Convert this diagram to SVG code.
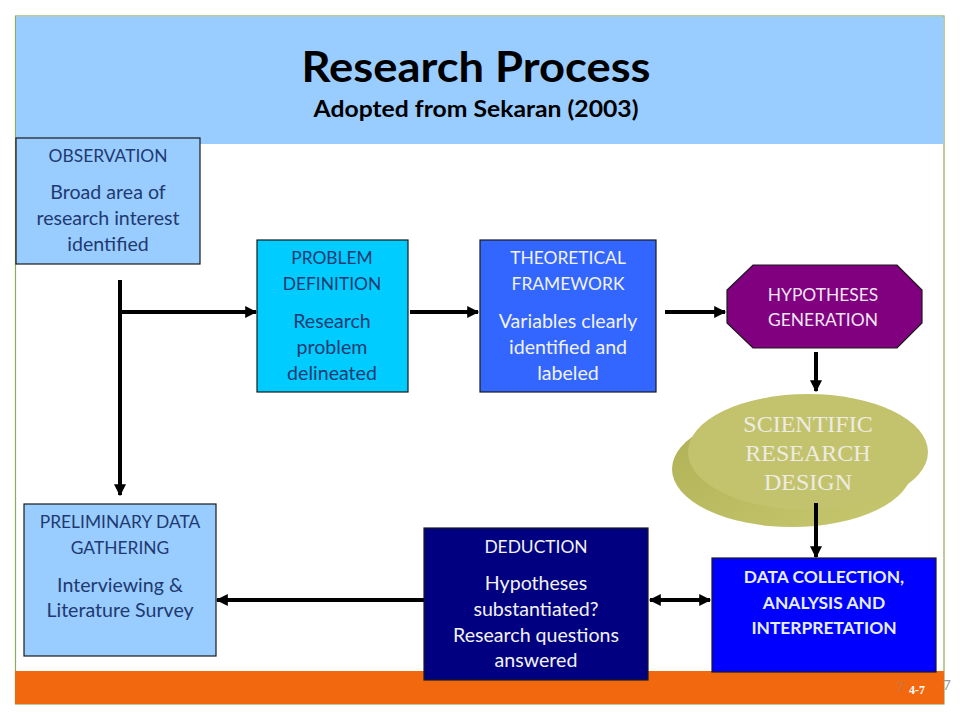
<svg xmlns="http://www.w3.org/2000/svg" width="960" height="720" viewBox="0 0 960 720">
<defs>
<style>
text{font-family:Lato,"Open Sans","Liberation Sans",sans-serif;text-anchor:middle}
.box{stroke:#1a1a1a;stroke-width:1.2}
.h{font-size:17.4px}
.b{font-size:19.6px}
.navy{fill:#1F3A70}
.wh{fill:#F2F2F2}
.conn line,.conn path{stroke:#000;stroke-width:4;fill:none}
.serif{font-family:"Liberation Serif","DejaVu Serif",serif;font-size:24px;fill:#EEECE1}
</style>
<marker id="ah" viewBox="0 0 10 10" refX="9" refY="5" markerWidth="3.2" markerHeight="3" orient="auto-start-reverse" markerUnits="strokeWidth">
<path d="M0,0 L10,5 L0,10 z" fill="#000"/>
</marker>
<linearGradient id="side" x1="0" y1="0" x2="1" y2="1">
<stop offset="0" stop-color="#AFAF55"/>
<stop offset="1" stop-color="#C8C870"/>
</linearGradient>
</defs>
<rect x="0" y="0" width="960" height="720" fill="#fff"/>
<!-- slide frame -->
<rect x="15.5" y="16" width="928.5" height="688" fill="#fff" stroke="#8EAA5A" stroke-width="1.2"/>
<rect x="16" y="16.5" width="927.5" height="127.5" fill="#99CCFF"/>
<rect x="15" y="671" width="929" height="33" fill="#F2680F"/>
<text x="476" y="82" textLength="349" lengthAdjust="spacingAndGlyphs" style="font-size:42px;font-weight:bold;fill:#000">Research Process</text>
<text x="476" y="117" textLength="325" lengthAdjust="spacingAndGlyphs" style="font-size:23px;font-weight:bold;fill:#000">Adopted from Sekaran (2003)</text>

<g id="observation">
<rect class="box" x="16" y="138" width="184" height="126" fill="#99CCFF"/>
<text class="h navy" x="108" y="162">OBSERVATION</text>
<text class="b navy" x="108" y="199">Broad area of</text>
<text class="b navy" x="108" y="225">research interest</text>
<text class="b navy" x="108" y="251">identified</text>
</g>

<g id="problem">
<rect class="box" x="257" y="240" width="151" height="152" fill="#00CCFF"/>
<text class="h navy" x="332" y="264">PROBLEM</text>
<text class="h navy" x="332" y="290">DEFINITION</text>
<text class="b navy" x="332" y="328">Research</text>
<text class="b navy" x="332" y="354">problem</text>
<text class="b navy" x="332" y="380">delineated</text>
</g>

<g id="theoretical">
<rect class="box" x="480" y="240" width="176" height="152" fill="#3366FF"/>
<text class="h wh" x="568" y="264">THEORETICAL</text>
<text class="h wh" x="568" y="290">FRAMEWORK</text>
<text class="b wh" x="568" y="328">Variables clearly</text>
<text class="b wh" x="568" y="354">identified and</text>
<text class="b wh" x="568" y="380">labeled</text>
</g>

<g id="hypotheses">
<polygon class="box" points="753,265 897,265 922,290 922,323 897,348 753,348 727,323 727,290" fill="#800080"/>
<text class="h" x="823" y="301" style="fill:#F2E6F2">HYPOTHESES</text>
<text class="h" x="823" y="326" style="fill:#F2E6F2">GENERATION</text>
</g>

<g id="design">
<ellipse cx="792" cy="469" rx="120" ry="58" fill="url(#side)"/>
<ellipse cx="808" cy="452" rx="120" ry="58" fill="#C3C36E"/>
<text class="serif" x="808" y="432">SCIENTIFIC</text>
<text class="serif" x="808" y="461">RESEARCH</text>
<text class="serif" x="808" y="490">DESIGN</text>
</g>

<g id="datacollection">
<rect class="box" x="712" y="558" width="224" height="114" fill="#0000FF"/>
<text class="h" x="824" y="583" style="fill:#E6EEFF;font-weight:bold">DATA COLLECTION,</text>
<text class="h" x="824" y="609" style="fill:#E6EEFF;font-weight:bold">ANALYSIS AND</text>
<text class="h" x="824" y="634" style="fill:#E6EEFF;font-weight:bold">INTERPRETATION</text>
</g>

<g id="deduction">
<rect class="box" x="424" y="528" width="224" height="152" fill="#000080"/>
<text class="h wh" x="536" y="553">DEDUCTION</text>
<text class="b wh" x="536" y="590">Hypotheses</text>
<text class="b wh" x="536" y="616">substantiated?</text>
<text class="b wh" x="536" y="642">Research questions</text>
<text class="b wh" x="536" y="667">answered</text>
</g>

<g id="preliminary">
<rect class="box" x="24" y="504" width="192" height="152" fill="#99CCFF"/>
<text class="h navy" x="120" y="528">PRELIMINARY DATA</text>
<text class="h navy" x="120" y="554">GATHERING</text>
<text class="b navy" x="120" y="592">Interviewing &amp;</text>
<text class="b navy" x="120" y="617">Literature Survey</text>
</g>

<g class="conn">
<line x1="120" y1="280" x2="120" y2="495" marker-end="url(#ah)"/>
<line x1="120" y1="312" x2="256" y2="312" marker-end="url(#ah)"/>
<line x1="410" y1="312" x2="478" y2="312" marker-end="url(#ah)"/>
<line x1="665" y1="312" x2="725" y2="312" marker-end="url(#ah)"/>
<line x1="816" y1="352" x2="816" y2="391" marker-end="url(#ah)"/>
<line x1="816" y1="503" x2="816" y2="557" marker-end="url(#ah)"/>
<line x1="650" y1="600" x2="710" y2="600" marker-start="url(#ah)" marker-end="url(#ah)"/>
<line x1="424" y1="600" x2="217" y2="600" marker-end="url(#ah)"/>
</g>

<text x="900" y="692" style="font-size:13px;fill:#B08060;opacity:0.7">7</text>
<text x="917" y="694" style="font-size:12px;font-weight:bold;fill:#fff;font-family:'Liberation Serif',serif">4-7</text>
<text x="947" y="690" style="font-size:13px;fill:#999">7</text>
</svg>
